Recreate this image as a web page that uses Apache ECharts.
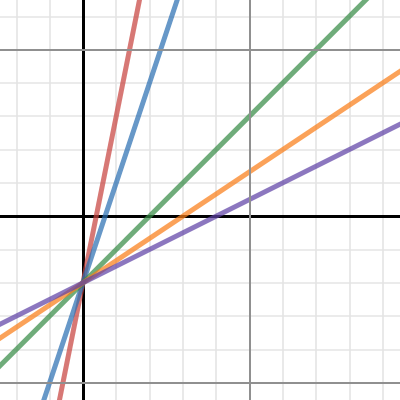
<!DOCTYPE html>
<html><head><meta charset="utf-8">
<script src="https://cdn.jsdelivr.net/npm/echarts@6/dist/echarts.min.js"></script>
<style>
html,body{margin:0;padding:0;width:400px;height:400px;overflow:hidden;background:#fff;}
#c{position:absolute;left:-16.667px;top:-16.667px;width:433.333px;height:433.333px;}
</style></head><body>
<div id="c"></div>
<script>
// Line endpoints (all pass through (0,-2))
var redLine = [[-1, -7], [2, 8]];
var blueLine = [[-2, -8], [3, 7]];
var greenLine = [[-5, -7], [10, 8]];
var orangeLine = [[-6, -6], [12, 6]];
var purpleLine = [[-6, -5], [12, 4]];
var majorX = [5];
var majorY = [5, -5];

var chart = echarts.init(document.getElementById('c'), null, {renderer: 'canvas'});
function lineSeries(data, color) {
  return {
    type: 'line', data: data, showSymbol: false, symbol: 'none', silent: true,
    clip: true, z: 3, animation: false,
    lineStyle: {color: color, width: 5, opacity: 0.72, cap: 'butt'}
  };
}
var markData = majorX.map(function (v) { return {xAxis: v}; })
  .concat(majorY.map(function (v) { return {yAxis: v}; }));
chart.setOption({
  animation: false,
  grid: {left: 0, right: 0, top: 0, bottom: 0, containLabel: false},
  xAxis: {
    type: 'value', min: -3, max: 10, interval: 1,
    axisLabel: {show: false}, axisTick: {show: false},
    axisLine: {show: true, onZero: true, lineStyle: {color: '#000', width: 3}},
    splitLine: {show: true, lineStyle: {color: '#e4e4e4', width: 1.6}}
  },
  yAxis: {
    type: 'value', min: -6, max: 7, interval: 1,
    axisLabel: {show: false}, axisTick: {show: false},
    axisLine: {show: true, onZero: true, lineStyle: {color: '#000', width: 3}},
    splitLine: {show: true, lineStyle: {color: '#e4e4e4', width: 1.6}}
  },
  series: [
    {
      type: 'line', data: [], z: 1, silent: true,
      markLine: {
        silent: true, symbol: 'none', animation: false, label: {show: false},
        lineStyle: {color: '#909090', width: 2, type: 'solid'},
        data: markData
      }
    },
    lineSeries(redLine, '#c74440'),
    lineSeries(blueLine, '#2d70b3'),
    lineSeries(greenLine, '#388c46'),
    lineSeries(orangeLine, '#fa7e19'),
    lineSeries(purpleLine, '#6042a6')
  ]
});
</script>
</body></html>
